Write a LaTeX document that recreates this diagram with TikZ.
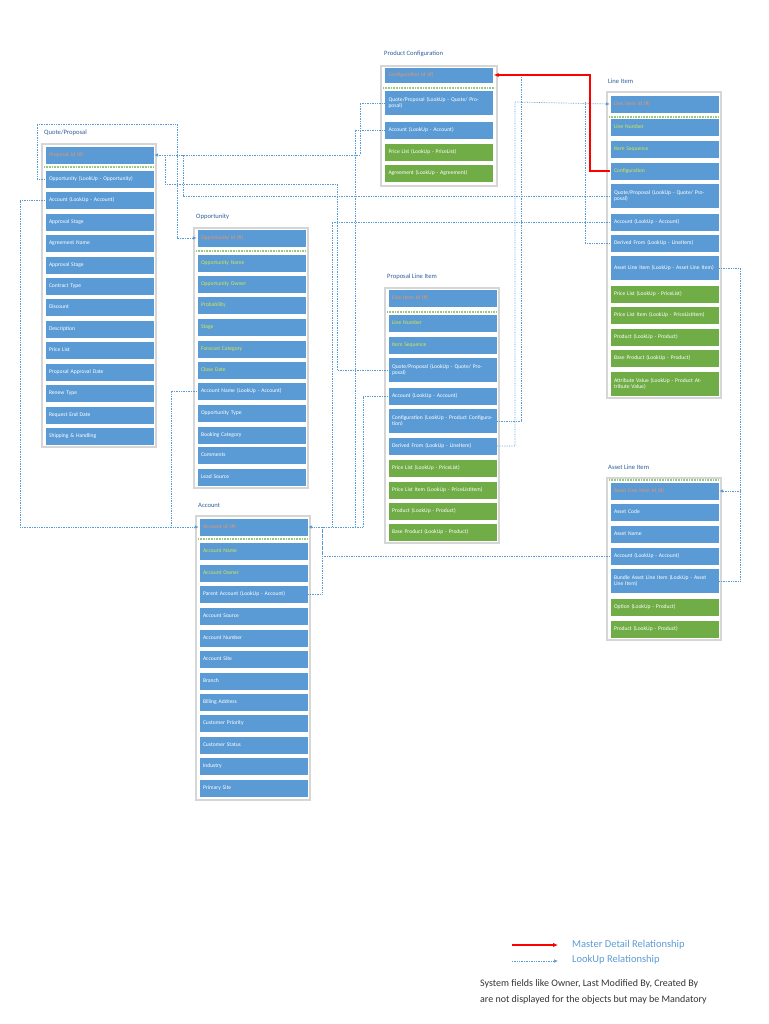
\documentclass[tikz,border=0pt]{standalone}
\usepackage{fontspec}
\setmainfont{Carlito}
\usetikzlibrary{arrows.meta}
\definecolor{bl}{HTML}{5B9BD5}
\definecolor{gr}{HTML}{70AD47}
\definecolor{idc}{HTML}{E8956A}
\definecolor{mand}{HTML}{D4E84A}
\definecolor{frm}{HTML}{D6D6D6}
\definecolor{ttl}{HTML}{2E5E9A}
\tikzset{
  row/.style={minimum width=109pt, text width=101pt, align=left, inner sep=0pt, inner xsep=4pt, font=\fontsize{5.6}{6.6}\selectfont, draw=white, line width=0.4pt},
  frame/.style={fill=white, draw=frm, line width=1.8pt},
  sep/.style={draw=gr!70, line width=1.2pt, dash pattern=on 1pt off 0.6pt},
  ttlst/.style={anchor=west, font=\fontsize{6.6}{8}\selectfont, text=ttl, inner sep=0pt},
  lk/.style={draw=bl, densely dotted, line width=0.7pt},
  lka/.style={lk, -{Latex[length=4pt,width=3.5pt]}},
  md/.style={draw=red, line width=1.1pt, -{Latex[length=5pt,width=4.5pt]}},
}
% \rb{name}{xleft}{ycenter}{height}{fill}{textcolor}{text}
\newcommand\rb[7]{\node[row, fill=#5, text=#6, minimum height=#4pt] (#1) at (#2+54.5,#3) {#7};}
\begin{document}
\begin{tikzpicture}[x=1pt,y=-1pt]
\useasboundingbox (0,0) rectangle (768,1024);
% ---------- Quote/Proposal
\node[ttlst] (tq) at (44,133) {Quote/Proposal};
\draw[frame] (42,144) rectangle (156,447);
\rb{qId}{45}{155}{18}{bl}{idc}{Proposal Id (\#)}
\draw[sep] (44,167) -- (154,167);
\rb{qOpp}{45}{179}{18}{bl}{white}{Opportunity (LookUp - Opportunity)}
\rb{qAcc}{45}{200}{18}{bl}{white}{Account (LookUp - Account)}
\rb{q3}{45}{222}{18}{bl}{white}{Approval Stage}
\rb{q4}{45}{243}{18}{bl}{white}{Agreement Name}
\rb{q5}{45}{265}{18}{bl}{white}{Approval Stage}
\rb{q6}{45}{286}{18}{bl}{white}{Contract Type}
\rb{q7}{45}{307}{18}{bl}{white}{Discount}
\rb{q8}{45}{329}{18}{bl}{white}{Description}
\rb{q9}{45}{350}{18}{bl}{white}{Price List}
\rb{q10}{45}{372}{18}{bl}{white}{Proposal Approval Date}
\rb{q11}{45}{393}{18}{bl}{white}{Renew Type}
\rb{q12}{45}{415}{18}{bl}{white}{Request End Date}
\rb{q13}{45}{436}{18}{bl}{white}{Shipping \& Handling}
% ---------- Opportunity
\node[ttlst] (to) at (196,217) {Opportunity};
\draw[frame] (194,228) rectangle (308,488);
\rb{oId}{197}{238}{18}{bl}{idc}{Opportunity Id (\#)}
\draw[sep] (196,251) -- (306,251);
\rb{o1}{197}{263}{18}{bl}{mand}{Opportunity Name}
\rb{o2}{197}{284}{18}{bl}{mand}{Opportunity Owner}
\rb{o3}{197}{305}{18}{bl}{mand}{Probability}
\rb{o4}{197}{327}{18}{bl}{mand}{Stage}
\rb{o5}{197}{349}{18}{bl}{mand}{Forecast Category}
\rb{o6}{197}{370}{18}{bl}{mand}{Close Date}
\rb{oAcc}{197}{391}{18}{bl}{white}{Account Name (LookUp - Account)}
\rb{o8}{197}{413}{18}{bl}{white}{Opportunity Type}
\rb{o9}{197}{435}{18}{bl}{white}{Booking Category}
\rb{o10}{197}{455}{18}{bl}{white}{Comments}
\rb{o11}{197}{477}{18}{bl}{white}{Lead Source}
% ---------- Account
\node[ttlst] (ta) at (198,505) {Account};
\draw[frame] (196,516) rectangle (310,800);
\rb{aId}{199}{527}{18}{bl}{idc}{Account Id (\#)}
\draw[sep] (198,539) -- (308,539);
\rb{a1}{199}{551}{18}{bl}{mand}{Account Name}
\rb{a2}{199}{573}{18}{bl}{mand}{Account Owner}
\rb{aPar}{199}{594}{18}{bl}{white}{Parent Account (LookUp - Account)}
\rb{a4}{199}{616}{18}{bl}{white}{Account Source}
\rb{a5}{199}{638}{18}{bl}{white}{Account Number}
\rb{a6}{199}{659}{18}{bl}{white}{Account Site}
\rb{a7}{199}{681}{18}{bl}{white}{Branch}
\rb{a8}{199}{702}{18}{bl}{white}{Billing Address}
\rb{a9}{199}{723}{18}{bl}{white}{Customer Priority}
\rb{a10}{199}{745}{18}{bl}{white}{Customer Status}
\rb{a11}{199}{766}{18}{bl}{white}{Industry}
\rb{a12}{199}{788}{18}{bl}{white}{Primary Site}
% ---------- Product Configuration
\node[ttlst] (tp) at (384,54) {Product Configuration};
\draw[frame] (381,66) rectangle (497,186);
\rb{pId}{384.5}{75}{16}{bl}{idc}{Configuration Id (\#)}
\draw[sep] (383,88) -- (495,88);
\rb{pQ}{384.5}{103}{25}{bl}{white}{Quote/Proposal (LookUp - Quote/ Proposal)}
\rb{pAcc}{384.5}{130}{18}{bl}{white}{Account (LookUp - Account)}
\rb{p3}{384.5}{152}{18}{gr}{white}{Price List (LookUp - PriceList)}
\rb{p4}{384.5}{173}{18}{gr}{white}{Agreement (LookUp - Agreement)}
% ---------- Line Item
\node[ttlst] (tl) at (608,81) {Line Item};
\draw[frame] (607,92) rectangle (721,398);
\rb{lId}{610}{104}{18}{bl}{idc}{Line Item Id (\#)}
\draw[sep] (609,117) -- (719,117);
\rb{l1}{610}{127}{18}{bl}{mand}{Line Number}
\rb{l2}{610}{149}{18}{bl}{mand}{Item Sequence}
\rb{lConf}{610}{171}{18}{bl}{mand}{Configuration}
\rb{lQ}{610}{196}{25}{bl}{white}{Quote/Proposal (LookUp - Quote/ Proposal)}
\rb{lAcc}{610}{222}{18}{bl}{white}{Account (LookUp - Account)}
\rb{lDer}{610}{243}{18}{bl}{white}{Derived From (LookUp - LineItem)}
\rb{lAss}{610}{268}{25}{bl}{white}{Asset Line Item (LookUp - Asset Line Item)}
\rb{l8}{610}{294}{18}{gr}{white}{Price List (LookUp - PriceList)}
\rb{l9}{610}{315}{18}{gr}{white}{Price List Item (LookUp - PriceListItem)}
\rb{l10}{610}{337}{18}{gr}{white}{Product (LookUp - Product)}
\rb{l11}{610}{358}{18}{gr}{white}{Base Product (LookUp - Product)}
\rb{l12}{610}{384}{25}{gr}{white}{Attribute Value (LookUp - Product Attribute Value)}
% ---------- Proposal Line Item
\node[ttlst] (tpl) at (387,277) {Proposal Line Item};
\draw[frame] (385,288) rectangle (499,543);
\rb{plId}{388}{298}{18}{bl}{idc}{Line Item Id (\#)}
\draw[sep] (387,312) -- (497,312);
\rb{pl1}{388}{323}{18}{bl}{mand}{Line Number}
\rb{pl2}{388}{345}{18}{bl}{mand}{Item Sequence}
\rb{plQ}{388}{370}{25}{bl}{white}{Quote/Proposal (LookUp - Quote/ Proposal)}
\rb{plAcc}{388}{396}{18}{bl}{white}{Account (LookUp - Account)}
\rb{plConf}{388}{421}{25}{bl}{white}{Configuration (LookUp - Product Configuration)}
\rb{plDer}{388}{446}{18}{bl}{white}{Derived From (LookUp - LineItem)}
\rb{pl7}{388}{468}{18}{gr}{white}{Price List (LookUp - PriceList)}
\rb{pl8}{388}{490}{18}{gr}{white}{Price List Item (LookUp - PriceListItem)}
\rb{pl9}{388}{511}{18}{gr}{white}{Product (LookUp - Product)}
\rb{pl10}{388}{532}{18}{gr}{white}{Base Product (LookUp - Product)}
% ---------- Asset Line Item
\node[ttlst] (tal) at (608,467) {Asset Line Item};
\draw[frame] (607,478) rectangle (721,640);
\draw[sep] (609,480) -- (719,480);
\rb{alId}{610}{491}{18}{bl}{idc}{Asset Line Item Id (\#)}
\rb{al1}{610}{512}{18}{bl}{white}{Asset Code}
\rb{al2}{610}{534}{18}{bl}{white}{Asset Name}
\rb{alAcc}{610}{556}{18}{bl}{white}{Account (LookUp - Account)}
\rb{alB}{610}{581}{25}{bl}{white}{Bundle Asset Line Item (LookUp - Asset Line Item)}
\rb{al5}{610}{607}{18}{gr}{white}{Option (LookUp - Product)}
\rb{al6}{610}{629}{18}{gr}{white}{Product (LookUp - Product)}
% ---------- Connectors
\draw[lka] (qOpp.west) -- (37,179) -- (37,124) -- (177,124) -- (177,238) -- (oId.west);
\draw[lka] (qAcc.west) -- (20,200) -- (20,527) -- (aId.west);
\draw[lk] (oAcc.west) -- (171,391) -- (171,527);
\draw[lk] (aPar.east) -- (322,594) -- (322,527);
\draw[lka] (plAcc.west) -- (363,396) -- (363,527) -- (aId.east);
\draw[lk] (pAcc.west) -- (355,130) -- (355,527);
\draw[lk] (lAcc.west) -- (332,222) -- (332,527);
\draw[lk] (alAcc.west) -- (322,556) -- (322,527);
\draw[lka] (pQ.west) -- (360,103) -- (360,155) -- (qId.east);
\draw[lk] (lQ.west) -- (183,196) -- (183,155);
\draw[lk] (plQ.west) -- (337,370) -- (337,184) -- (165,184) -- (165,155);
\draw[lka] (plDer.east) -- (515,446) -- (515,102) -- (lId.west);
\draw[lk] (lDer.west) -- (585,243) -- (585,102);
\draw[lk] (plConf.east) -- (521,421) -- (521,75);
\draw[md] (lConf.west) -- (590,171) -- (590,75) -- (pId.east);
\draw[lka] (lAss.east) -- (740,268) -- (740,491) -- (alId.east);
\draw[lk] (alB.east) -- (740,581) -- (740,491);
% ---------- Legend
\coordinate (m1) at (512,945); \coordinate (m2) at (558,945);
\coordinate (k1) at (512,961); \coordinate (k2) at (558,961);
\draw[md] (m1) -- (m2);
\draw[lka] (k1) -- (k2);
\node[anchor=west, text=bl, font=\fontsize{10.5}{12}\selectfont, inner sep=0pt] (lg1) at (572,945) {Master Detail Relationship};
\node[anchor=west, text=bl, font=\fontsize{10.5}{12}\selectfont, inner sep=0pt] (lg2) at (572,960) {LookUp Relationship};
\node[anchor=north west, align=left, text=black!80, font=\fontsize{10}{16}\selectfont, inner sep=0pt] (note) at (480,979) {System fields like Owner, Last Modified By, Created By\\are not displayed for the objects but may be Mandatory};
\end{tikzpicture}
\end{document}
